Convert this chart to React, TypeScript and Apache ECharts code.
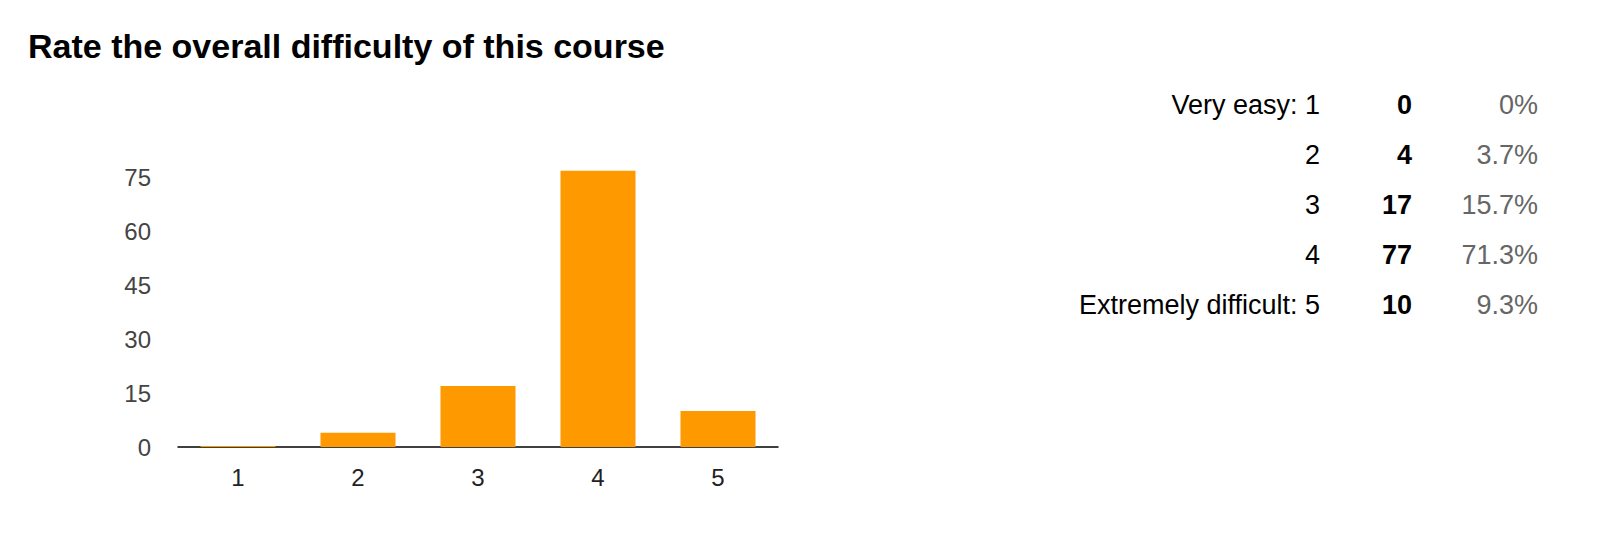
import { useEffect, useRef } from "react";
import * as echarts from "echarts";

const categories = ["1", "2", "3", "4", "5"];
const counts = [0, 4, 17, 77, 10];
const rowLabels = ["Very easy: 1", "2", "3", "4", "Extremely difficult: 5"];
const percents = ["0%", "3.7%", "15.7%", "71.3%", "9.3%"];
const yMax = 90;
const yStep = 15;

const font = '"Liberation Sans", Arial, sans-serif';

export default function App() {
  const chartRef = useRef<HTMLDivElement>(null);

  useEffect(() => {
    if (!chartRef.current) return;
    const chart = echarts.init(chartRef.current, null, { renderer: "svg" });

    // right-hand table: label / count / percent
    const tableRows: any[] = [];
    rowLabels.forEach((label, i) => {
      const y = 105 + i * 50;
      tableRows.push(
        {
          type: "text",
          x: 1320,
          y,
          style: { text: label, fill: "#000", font: `27px ${font}`, textAlign: "right", textVerticalAlign: "middle" },
        },
        {
          type: "text",
          x: 1412,
          y,
          style: { text: String(counts[i]), fill: "#000", font: `bold 27px ${font}`, textAlign: "right", textVerticalAlign: "middle" },
        },
        {
          type: "text",
          x: 1538,
          y,
          style: { text: percents[i], fill: "#666", font: `27px ${font}`, textAlign: "right", textVerticalAlign: "middle" },
        }
      );
    });

    chart.setOption({
      animation: false,
      backgroundColor: "#fff",
      graphic: [
        {
          type: "text",
          x: 28,
          y: 46,
          style: {
            text: "Rate the overall difficulty of this course",
            fill: "#000",
            font: `bold 34px ${font}`,
            textAlign: "left",
            textVerticalAlign: "middle",
          },
        },
        ...tableRows,
      ],
      grid: { left: 178, width: 600, top: 124, height: 323 },
      xAxis: {
        type: "category",
        data: categories,
        axisLine: { lineStyle: { color: "#000", width: 1.5 } },
        axisTick: { show: false },
        axisLabel: { color: "#222", fontFamily: font, fontSize: 24, margin: 18 },
      },
      yAxis: {
        type: "value",
        min: 0,
        max: yMax,
        interval: yStep,
        axisLine: { show: false },
        axisTick: { show: false },
        splitLine: { show: false },
        axisLabel: {
          color: "#444",
          fontFamily: font,
          fontSize: 24,
          margin: 27,
          formatter: (v: number) => (v === yMax ? "" : String(v)),
        },
      },
      series: [
        {
          type: "bar",
          data: counts,
          barWidth: 75,
          barMinHeight: 1,
          itemStyle: { color: "#ff9900" },
        },
      ],
    });

    return () => chart.dispose();
  }, []);

  return (
    <div
      ref={chartRef}
      style={{ position: "fixed", left: 0, top: 0, width: 1600, height: 540, background: "#fff" }}
    />
  );
}
